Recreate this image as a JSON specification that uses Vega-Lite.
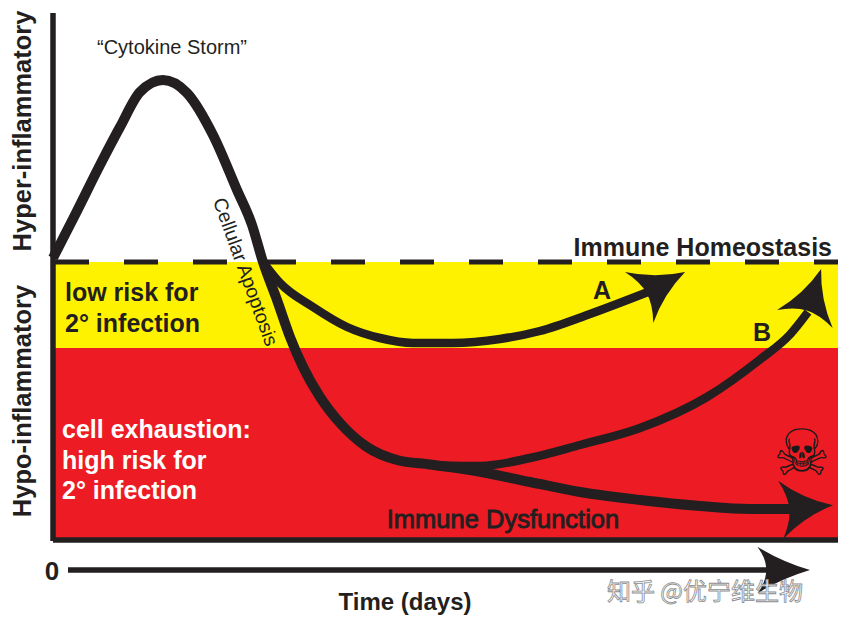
{
  "$schema": "https://vega.github.io/schema/vega-lite/v6.json",
  "width": 863,
  "height": 628,
  "padding": 0,
  "autosize": {"type": "none"},
  "background": "#ffffff",
  "config": {
    "view": {"stroke": null},
    "text": {"font": "Liberation Sans", "color": "#231f20"}
  },
  "datasets": {
    "zones": [
      {"zone": "low risk", "day": 0.375, "day_end": 98.25, "level": 0, "level_end": -34.4},
      {"zone": "high risk", "day": 0.375, "day_end": 98.25, "level": -34.4, "level_end": -111.2}
    ],
    "guides": [
      {"kind": "inflammation axis", "day": 0.125, "day_end": 0.125, "level": 99.6, "level_end": -111.6},
      {"kind": "baseline", "day": 0.125, "day_end": 98.25, "level": -111.2, "level_end": -111.2},
      {"kind": "time axis", "day": 2, "day_end": 89.375, "level": -123.2, "level_end": -123.2},
      {"kind": "homeostasis", "day": 0.375, "day_end": 98.25, "level": 0, "level_end": 0}
    ],
    "curves": [
      {"path": "storm", "seq": 1, "day": 0.125, "level": 1.6},
      {"path": "storm", "seq": 2, "day": 2.875, "level": 18.8},
      {"path": "storm", "seq": 3, "day": 6, "level": 38.8},
      {"path": "storm", "seq": 4, "day": 8.5, "level": 54},
      {"path": "storm", "seq": 5, "day": 11, "level": 68},
      {"path": "storm", "seq": 6, "day": 13.875, "level": 72.8},
      {"path": "storm", "seq": 7, "day": 16.875, "level": 67.6},
      {"path": "storm", "seq": 8, "day": 20.125, "level": 50.8},
      {"path": "storm", "seq": 9, "day": 23.125, "level": 28.8},
      {"path": "storm", "seq": 10, "day": 25, "level": 14.8},
      {"path": "storm", "seq": 11, "day": 26.375, "level": 0},
      {"path": "storm", "seq": 12, "day": 28.125, "level": -15.2},
      {"path": "storm", "seq": 13, "day": 29.75, "level": -30},
      {"path": "storm", "seq": 14, "day": 31.375, "level": -42},
      {"path": "storm", "seq": 15, "day": 33.5, "level": -54},
      {"path": "storm", "seq": 16, "day": 36, "level": -64.4},
      {"path": "storm", "seq": 17, "day": 39.375, "level": -74},
      {"path": "storm", "seq": 18, "day": 43.125, "level": -79.2},
      {"path": "storm", "seq": 19, "day": 47.25, "level": -81},
      {"path": "storm", "seq": 20, "day": 52.25, "level": -83.2},
      {"path": "storm", "seq": 21, "day": 59.75, "level": -88},
      {"path": "storm", "seq": 22, "day": 66, "level": -92},
      {"path": "storm", "seq": 23, "day": 73.5, "level": -95.2},
      {"path": "storm", "seq": 24, "day": 81, "level": -97.6},
      {"path": "storm", "seq": 25, "day": 87.25, "level": -98.8},
      {"path": "storm", "seq": 26, "day": 92.25, "level": -98.8},
      {"path": "A", "seq": 1, "day": 26.375, "level": 0},
      {"path": "A", "seq": 2, "day": 28.5, "level": -8.4},
      {"path": "A", "seq": 3, "day": 32.625, "level": -18},
      {"path": "A", "seq": 4, "day": 36.875, "level": -26},
      {"path": "A", "seq": 5, "day": 41, "level": -30.4},
      {"path": "A", "seq": 6, "day": 45.125, "level": -32.4},
      {"path": "A", "seq": 7, "day": 50.125, "level": -32.4},
      {"path": "A", "seq": 8, "day": 56, "level": -30.8},
      {"path": "A", "seq": 9, "day": 61, "level": -27.6},
      {"path": "A", "seq": 10, "day": 67.25, "level": -20.8},
      {"path": "A", "seq": 11, "day": 74.5, "level": -12},
      {"path": "B", "seq": 1, "day": 48.5, "level": -81.4},
      {"path": "B", "seq": 2, "day": 53.5, "level": -81.6},
      {"path": "B", "seq": 3, "day": 59.75, "level": -78.4},
      {"path": "B", "seq": 4, "day": 66, "level": -73.2},
      {"path": "B", "seq": 5, "day": 73.5, "level": -66.4},
      {"path": "B", "seq": 6, "day": 81.875, "level": -54},
      {"path": "B", "seq": 7, "day": 88.5, "level": -39},
      {"path": "B", "seq": 8, "day": 92.25, "level": -29},
      {"path": "B", "seq": 9, "day": 94.5, "level": -20}
    ],
    "heads": [
      {"name": "A", "day": 75.94, "level": -9.7},
      {"name": "B", "day": 95.01, "level": -13.92},
      {"name": "dysfunction", "day": 93.99, "level": -98.28},
      {"name": "time", "day": 91.1, "level": -123.2}
    ],
    "labels": [
      {"group": "storm", "label": "“Cytokine Storm”", "day": 15, "level": 85.6},
      {"group": "axis", "label": "Hyper-inflammatory", "day": -3.625, "level": 52.4},
      {"group": "axis", "label": "Hypo-inflammatory", "day": -3.625, "level": -55.6},
      {"group": "low", "label": "low risk for", "day": 1.625, "level": -12.2},
      {"group": "low", "label": "2° infection", "day": 1.625, "level": -24.6},
      {"group": "high", "label": "cell exhaustion:", "day": 1.25, "level": -67},
      {"group": "high", "label": "high risk for", "day": 1.25, "level": -79.4},
      {"group": "high", "label": "2° infection", "day": 1.25, "level": -91.4},
      {"group": "homeostasis", "label": "Immune Homeostasis", "day": 97.5, "level": 5.8},
      {"group": "path", "label": "A", "day": 68.75, "level": -11.4},
      {"group": "path", "label": "B", "day": 88.75, "level": -28.2},
      {"group": "dysfunction", "label": "Immune Dysfunction", "day": 56.375, "level": -103.36},
      {"group": "origin", "label": "0", "day": 0, "level": -124},
      {"group": "time", "label": "Time (days)", "day": 44.125, "level": -136.4},
      {"group": "apoptosis", "label": "Cellular Apoptosis", "day": 24.125, "level": -4},
      {"group": "death", "label": "☠", "day": 93.75, "level": -77.6},
      {"group": "credit", "label": "知乎 @优宁维生物", "day": 81.625, "level": -132.4}
    ]
  },
  "encoding": {
    "x": {"field": "day", "type": "quantitative", "scale": {"domain": [-6.5, 101.375], "nice": false, "zero": false}, "axis": null},
    "y": {"field": "level", "type": "quantitative", "scale": {"domain": [-146.4, 104.8], "nice": false, "zero": false}, "axis": null}
  },
  "layer": [
    {
      "data": {"name": "zones"},
      "mark": {"type": "rect"},
      "encoding": {
        "x2": {"field": "day_end"},
        "y2": {"field": "level_end"},
        "color": {"field": "zone", "type": "nominal", "scale": {"domain": ["low risk", "high risk"], "range": ["#fff200", "#ed1c24"]}, "legend": null}
      }
    },
    {
      "data": {"name": "guides"},
      "transform": [{"filter": "datum.kind != 'homeostasis'"}],
      "mark": {"type": "rule", "color": "#231f20", "strokeWidth": 5.5},
      "encoding": {"x2": {"field": "day_end"}, "y2": {"field": "level_end"}}
    },
    {
      "data": {"name": "guides"},
      "transform": [{"filter": "datum.kind == 'homeostasis'"}],
      "mark": {"type": "rule", "color": "#231f20", "strokeWidth": 5, "strokeDash": [34, 35]},
      "encoding": {"x2": {"field": "day_end"}, "y2": {"field": "level_end"}}
    },
    {
      "data": {"name": "curves"},
      "transform": [{"filter": "datum.path == 'storm'"}],
      "mark": {"type": "line", "interpolate": "monotone", "color": "#231f20", "strokeWidth": 10},
      "encoding": {"order": {"field": "seq", "type": "quantitative"}}
    },
    {
      "data": {"name": "curves"},
      "transform": [{"filter": "datum.path != 'storm'"}],
      "mark": {"type": "line", "interpolate": "monotone", "color": "#231f20", "strokeWidth": 8.5},
      "encoding": {"detail": {"field": "path"}, "order": {"field": "seq", "type": "quantitative"}}
    },
    {
      "data": {"name": "heads"},
      "transform": [{"filter": "datum.name == 'A'"}],
      "mark": {"type": "point", "shape": "M0,-1 Q0.3,0 1,0.8 Q0.45,0.5 0,0.5 Q-0.45,0.5 -1,0.8 Q-0.3,0 0,-1 Z", "size": 3411, "filled": true, "opacity": 1, "color": "#231f20", "angle": 61}
    },
    {
      "data": {"name": "heads"},
      "transform": [{"filter": "datum.name == 'B'"}],
      "mark": {"type": "point", "shape": "M0,-1 Q0.3,0 1,0.8 Q0.45,0.5 0,0.5 Q-0.45,0.5 -1,0.8 Q-0.3,0 0,-1 Z", "size": 3411, "filled": true, "opacity": 1, "color": "#231f20", "angle": 18}
    },
    {
      "data": {"name": "heads"},
      "transform": [{"filter": "datum.name == 'dysfunction'"}],
      "mark": {"type": "point", "shape": "M0,-1 Q0.3,0 1,0.8 Q0.45,0.5 0,0.5 Q-0.45,0.5 -1,0.8 Q-0.3,0 0,-1 Z", "size": 3411, "filled": true, "opacity": 1, "color": "#231f20", "angle": 85}
    },
    {
      "data": {"name": "heads"},
      "transform": [{"filter": "datum.name == 'time'"}],
      "mark": {"type": "point", "shape": "M0,-1 Q0.3,0 0.8,0.8 Q0.4,0.5 0,0.5 Q-0.4,0.5 -0.8,0.8 Q-0.3,0 0,-1 Z", "size": 3411, "filled": true, "opacity": 1, "color": "#231f20", "angle": 90}
    },
    {
      "data": {"name": "labels"},
      "transform": [{"filter": "datum.group == 'axis'"}],
      "mark": {"type": "text", "fontSize": 25.5, "fontWeight": "bold", "angle": 270, "baseline": "middle"},
      "encoding": {"text": {"field": "label"}}
    },
    {
      "data": {"name": "labels"},
      "transform": [{"filter": "datum.group == 'low'"}],
      "mark": {"type": "text", "fontSize": 25, "fontWeight": "bold", "align": "left", "baseline": "middle"},
      "encoding": {"text": {"field": "label"}}
    },
    {
      "data": {"name": "labels"},
      "transform": [{"filter": "datum.group == 'high'"}],
      "mark": {"type": "text", "fontSize": 25, "fontWeight": "bold", "align": "left", "baseline": "middle", "color": "#ffffff"},
      "encoding": {"text": {"field": "label"}}
    },
    {
      "data": {"name": "labels"},
      "transform": [{"filter": "datum.group == 'homeostasis'"}],
      "mark": {"type": "text", "fontSize": 25, "fontWeight": "bold", "align": "right", "baseline": "middle"},
      "encoding": {"text": {"field": "label"}}
    },
    {
      "data": {"name": "labels"},
      "transform": [{"filter": "datum.group == 'path'"}],
      "mark": {"type": "text", "fontSize": 25, "fontWeight": "bold", "baseline": "middle"},
      "encoding": {"text": {"field": "label"}}
    },
    {
      "data": {"name": "labels"},
      "transform": [{"filter": "datum.group == 'dysfunction'"}],
      "mark": {"type": "text", "fontSize": 25.5, "baseline": "middle", "stroke": "#231f20", "strokeWidth": 0.9},
      "encoding": {"text": {"field": "label"}}
    },
    {
      "data": {"name": "labels"},
      "transform": [{"filter": "datum.group == 'origin'"}],
      "mark": {"type": "text", "fontSize": 26, "fontWeight": "bold", "baseline": "middle"},
      "encoding": {"text": {"field": "label"}}
    },
    {
      "data": {"name": "labels"},
      "transform": [{"filter": "datum.group == 'time'"}],
      "mark": {"type": "text", "fontSize": 24, "fontWeight": "bold", "baseline": "middle"},
      "encoding": {"text": {"field": "label"}}
    },
    {
      "data": {"name": "labels"},
      "transform": [{"filter": "datum.group == 'storm'"}],
      "mark": {"type": "text", "fontSize": 20, "baseline": "middle"},
      "encoding": {"text": {"field": "label"}}
    },
    {
      "data": {"name": "labels"},
      "transform": [{"filter": "datum.group == 'apoptosis'"}],
      "mark": {"type": "text", "fontSize": 19.5, "angle": 70, "baseline": "middle"},
      "encoding": {"text": {"field": "label"}}
    },
    {
      "data": {"name": "labels"},
      "transform": [{"filter": "datum.group == 'death'"}],
      "mark": {"type": "text", "font": "DejaVu Sans", "fontSize": 64, "baseline": "middle", "color": "#1a1a1a"},
      "encoding": {"text": {"field": "label"}}
    },
    {
      "data": {"name": "labels"},
      "transform": [{"filter": "datum.group == 'credit'"}],
      "mark": {"type": "text", "font": "Noto Sans CJK SC", "fontSize": 24, "baseline": "middle", "color": "#ffffff", "stroke": "#8c8c8c", "strokeWidth": 0.8},
      "encoding": {"text": {"field": "label"}}
    }
  ]
}
